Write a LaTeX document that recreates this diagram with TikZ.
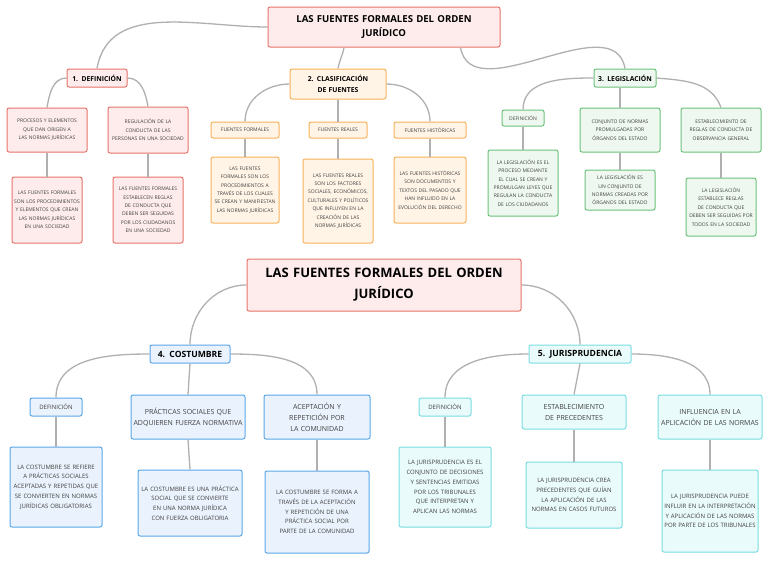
\documentclass[tikz,border=0pt]{standalone}
\usepackage{fontspec}
\setmainfont{Open Sans}
\definecolor{rB}{HTML}{E8736B}\definecolor{rF}{HTML}{FDECEB}
\definecolor{oB}{HTML}{F5B25A}\definecolor{oF}{HTML}{FFF4E6}
\definecolor{gB}{HTML}{6CC27A}\definecolor{gF}{HTML}{EFF8F0}
\definecolor{bB}{HTML}{5AA7E8}\definecolor{bF}{HTML}{EAF3FD}
\definecolor{cB}{HTML}{7ADDE2}\definecolor{cF}{HTML}{EAFBFB}
\definecolor{ln}{HTML}{B0B0B0}
\tikzset{
 bx/.style={draw, rounded corners=2pt, line width=1pt, align=center, inner sep=1pt, text=black!75},
 red/.style={bx, draw=rB, fill=rF}, ora/.style={bx, draw=oB, fill=oF},
 grn/.style={bx, draw=gB, fill=gF}, blu/.style={bx, draw=bB, fill=bF},
 cya/.style={bx, draw=cB, fill=cF},
 tiny/.style={font=\fontsize{5.0}{8.4}\selectfont},
 sm/.style={font=\fontsize{6.0}{9.8}\selectfont},
 mid/.style={font=\fontsize{7.0}{11}\selectfont},
 lvl/.style={font=\fontsize{6.8}{10.5}\selectfont\bfseries, text=black},
 lvlb/.style={font=\fontsize{8.6}{11}\selectfont\bfseries, text=black},
 ttl/.style={font=\fontsize{9.6}{14}\selectfont\bfseries, text=black},
 ttlb/.style={font=\fontsize{13}{21}\selectfont\bfseries, text=black},
 cn/.style={draw=ln, line width=1.3pt},
}
\newcommand{\bxat}[6]{\node[#1, minimum width=#4pt, minimum height=#5pt, text width=#4pt-4pt] (#6) at (#2pt,-#3pt)}
\begin{document}
\begin{tikzpicture}
\hyphenpenalty=10000 \exhyphenpenalty=10000 \relax
\fill[white] (0,0) rectangle (768pt,-566pt);
% top
\bxat{red,ttl}{384}{27}{232}{40}{T1} {LAS FUENTES FORMALES DEL ORDEN\\JURÍDICO};
\bxat{red,lvl}{97}{78}{60}{18}{D} {1. DEFINICIÓN};
\bxat{ora,lvl}{338}{84}{96}{30}{C} {2. CLASIFICACIÓN DE FUENTES};
\bxat{grn,lvl}{625}{78}{62}{18}{L} {3. LEGISLACIÓN};
\bxat{red,tiny}{47}{130}{80}{44}{D1} {PROCESOS Y ELEMENTOS QUE DAN ORIGEN A LAS NORMAS JURÍDICAS};
\bxat{red,tiny}{148}{130}{80}{46}{D2} {REGULACIÓN DE LA CONDUCTA DE LAS PERSONAS EN UNA SOCIEDAD};
\bxat{red,tiny}{47}{210}{70}{66}{D1a} {LAS FUENTES FORMALES SON LOS PROCEDIMIENTOS Y ELEMENTOS QUE CREAN LAS NORMAS JURÍDICAS EN UNA SOCIEDAD};
\bxat{red,tiny}{148}{210}{70}{66}{D2a} {LAS FUENTES FORMALES ESTABLECEN REGLAS DE CONDUCTA QUE DEBEN SER SEGUIDAS POR LOS CIUDADANOS EN UNA SOCIEDAD};
\bxat{ora,tiny}{245}{130}{68}{16}{C1} {FUENTES FORMALES};
\bxat{ora,tiny}{338}{130}{58}{16}{C2} {FUENTES REALES};
\bxat{ora,tiny}{430}{130}{72}{16}{C3} {FUENTES HISTÓRICAS};
\bxat{ora,tiny}{245}{190}{68}{66}{C1a} {LAS FUENTES FORMALES SON LOS PROCEDIMIENTOS A TRAVÉS DE LOS CUALES SE CREAN Y MANIFIESTAN LAS NORMAS JURÍDICAS};
\bxat{ora,tiny}{338}{201}{70}{84}{C2a} {LAS FUENTES REALES SON LOS FACTORES SOCIALES, ECONÓMICOS, CULTURALES Y POLÍTICOS QUE INFLUYEN EN LA CREACIÓN DE LAS NORMAS JURÍDICAS};
\bxat{ora,tiny}{430}{190}{72}{66}{C3a} {LAS FUENTES HISTÓRICAS SON DOCUMENTOS Y TEXTOS DEL PASADO QUE HAN INFLUIDO EN LA EVOLUCIÓN DEL DERECHO};
\bxat{grn,tiny}{523}{118}{42}{16}{L1} {DEFINICIÓN};
\bxat{grn,tiny}{620}{130}{80}{44}{L2} {CONJUNTO DE NORMAS PROMULGADAS POR ÓRGANOS DEL ESTADO};
\bxat{grn,tiny}{721}{130}{80}{44}{L3} {ESTABLECIMIENTO DE REGLAS DE CONDUCTA DE OBSERVANCIA GENERAL};
\bxat{grn,tiny}{523}{183}{70}{66}{L1a} {LA LEGISLACIÓN ES EL PROCESO MEDIANTE EL CUAL SE CREAN Y PROMULGAN LEYES QUE REGULAN LA CONDUCTA DE LOS CIUDADANOS};
\bxat{grn,tiny}{620}{190}{70}{40}{L2a} {LA LEGISLACIÓN ES UN CONJUNTO DE NORMAS CREADAS POR ÓRGANOS DEL ESTADO};
\bxat{grn,tiny}{721}{207}{70}{58}{L3a} {LA LEGISLACIÓN ESTABLECE REGLAS DE CONDUCTA QUE DEBEN SER SEGUIDAS POR TODOS EN LA SOCIEDAD};
% bottom
\bxat{red,ttlb}{384}{285}{274}{52}{T2} {LAS FUENTES FORMALES DEL ORDEN\\JURÍDICO};
\bxat{blu,lvlb}{190}{354}{80}{18}{K} {4. COSTUMBRE};
\bxat{cya,lvlb}{580}{354}{102}{18}{J} {5. JURISPRUDENCIA};
\bxat{blu,sm}{56}{407}{52}{18}{K1} {DEFINICIÓN};
\bxat{blu,mid}{188}{417}{114}{44}{K2} {PRÁCTICAS SOCIALES QUE ADQUIEREN FUERZA NORMATIVA};
\bxat{blu,mid}{317}{417}{106}{44}{K3} {ACEPTACIÓN Y\\REPETICIÓN POR LA COMUNIDAD};
\bxat{blu,sm}{56}{487}{92}{80}{K1a} {LA COSTUMBRE SE REFIERE A PRÁCTICAS SOCIALES ACEPTADAS Y REPETIDAS QUE SE CONVIERTEN EN NORMAS JURÍDICAS OBLIGATORIAS};
\bxat{blu,sm}{190}{503}{104}{66}{K2a} {LA COSTUMBRE ES UNA PRÁCTICA SOCIAL QUE SE CONVIERTE EN UNA NORMA JURÍDICA CON FUERZA OBLIGATORIA};
\bxat{blu,sm}{317}{512}{104}{82}{K3a} {LA COSTUMBRE SE FORMA A TRAVÉS DE LA ACEPTACIÓN Y REPETICIÓN DE UNA PRÁCTICA SOCIAL POR PARTE DE LA COMUNIDAD};
\bxat{cya,sm}{445}{407}{52}{18}{J1} {DEFINICIÓN};
\bxat{cya,mid}{574}{412}{104}{34}{J2} {ESTABLECIMIENTO DE PRECEDENTES};
\bxat{cya,mid}{710}{417}{104}{44}{J3} {INFLUENCIA EN LA APLICACIÓN DE LAS NORMAS};
\bxat{cya,sm}{445}{487}{92}{80}{J1a} {LA JURISPRUDENCIA ES EL CONJUNTO DE DECISIONES Y SENTENCIAS EMITIDAS POR LOS TRIBUNALES QUE INTERPRETAN Y APLICAN LAS NORMAS};
\bxat{cya,sm}{574}{495}{96}{66}{J2a} {LA JURISPRUDENCIA CREA PRECEDENTES QUE GUÍAN LA APLICACIÓN DE LAS NORMAS EN CASOS FUTUROS};
\bxat{cya,sm}{710}{511}{96}{82}{J3a} {LA JURISPRUDENCIA PUEDE INFLUIR EN LA INTERPRETACIÓN Y APLICACIÓN DE LAS NORMAS POR PARTE DE LOS TRIBUNALES};
% connectors
\draw[cn] (T1.west) to[out=180,in=80] (D.north);
\draw[cn] (T1.south) ++(-40pt,0) to[out=-100,in=80] (C.north);
\draw[cn] (T1.south east) ++(-40pt,0) to[out=-80,in=100] (L.north);
\draw[cn] (D.west) to[out=180,in=80] (D1.north);
\draw[cn] (D.east) to[out=0,in=100] (D2.north);
\draw[cn] (C.west) to[out=180,in=90] (C1.north);
\draw[cn] (C.south) -- (C2.north);
\draw[cn] (C.east) to[out=0,in=90] (C3.north);
\draw[cn] (L.west) to[out=180,in=90] (L1.north);
\draw[cn] (L.south) ++(-5pt,0) -- (L2.north);
\draw[cn] (L.east) to[out=-5,in=110] (L3.north);
\foreach \a in {D1,D2,C1,C2,C3,L1,L2,L3}{\draw[cn] (\a.south) -- (\a a.north);}
\draw[cn] (T2.west) to[out=180,in=90] (K.north);
\draw[cn] (T2.east) to[out=0,in=90] (J.north);
\draw[cn] (K.west) to[out=180,in=90] (K1.north);
\draw[cn] (K.south) -- (K2.north);
\draw[cn] (K.east) to[out=0,in=90] (K3.north);
\draw[cn] (J.west) to[out=180,in=90] (J1.north);
\draw[cn] (J.south) -- (J2.north);
\draw[cn] (J.east) to[out=0,in=90] (J3.north);
\foreach \a in {K1,K2,K3,J1,J2,J3}{\draw[cn] (\a.south) -- (\a a.north);}
\end{tikzpicture}
\end{document}
